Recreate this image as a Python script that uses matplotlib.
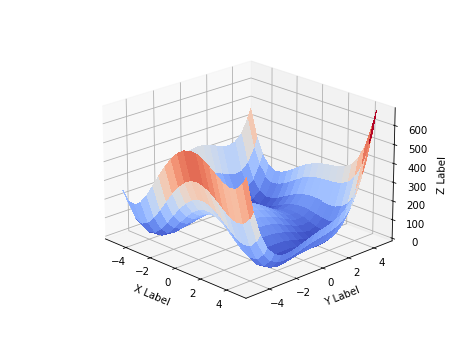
import matplotlib
matplotlib.use("Agg")
import matplotlib.pyplot as plt
import numpy as np

x_values = [-5, -4.5, -4, -3.5, -3, -2.5, -2, -1.5, -1, -0.5, 0, 0.5, 1, 1.5, 2, 2.5, 3, 3.5, 4, 4.5, 4.75]
y_values = list(x_values)
# one row per y value, one column per x value
z_values = [
    [250, 200, 196, 224, 274, 335, 400, 461, 514, 554, 580, 590, 586, 569, 544, 515, 490, 476, 484, 524, 561],
    [158, 99, 86, 106, 147, 201, 259, 314, 360, 395, 416, 422, 413, 393, 365, 334, 306, 291, 298, 338, 374],
    [116, 48, 26, 38, 72, 119, 170, 219, 260, 290, 306, 308, 296, 273, 242, 209, 180, 164, 170, 210, 246],
    [110, 34, 4, 8, 35, 76, 121, 164, 200, 226, 238, 236, 221, 196, 163, 128, 98, 82, 88, 128, 165],
    [130, 45, 8, 5, 26, 60, 100, 138, 170, 191, 200, 195, 178, 150, 116, 80, 50, 33, 40, 81, 119],
    [165, 73, 29, 20, 34, 63, 98, 132, 159, 177, 183, 176, 156, 127, 92, 56, 25, 9, 17, 60, 98],
    [208, 109, 58, 43, 52, 76, 106, 136, 160, 175, 178, 169, 148, 118, 82, 46, 16, 1, 10, 55, 95],
    [251, 146, 89, 68, 72, 92, 118, 144, 165, 178, 179, 168, 146, 116, 80, 44, 15, 2, 13, 60, 101],
    [290, 178, 116, 90, 90, 105, 128, 151, 170, 180, 180, 168, 146, 115, 80, 45, 18, 6, 20, 70, 113],
    [320, 203, 136, 106, 101, 113, 133, 154, 170, 179, 178, 166, 143, 113, 79, 46, 20, 11, 28, 82, 126],
    [340, 218, 146, 112, 104, 113, 130, 149, 164, 172, 170, 158, 136, 107, 74, 43, 20, 14, 34, 92, 139],
    [348, 222, 146, 108, 97, 104, 119, 136, 150, 158, 156, 144, 123, 96, 65, 36, 16, 14, 38, 100, 150],
    [346, 215, 136, 95, 82, 86, 100, 116, 130, 137, 136, 125, 106, 80, 52, 26, 10, 11, 40, 107, 159],
    [335, 201, 119, 76, 60, 63, 76, 92, 105, 113, 113, 104, 86, 63, 38, 16, 3, 9, 43, 116, 171],
    [320, 183, 98, 53, 36, 38, 50, 66, 80, 89, 90, 83, 68, 48, 26, 8, 0, 11, 50, 129, 187],
    [305, 166, 79, 32, 14, 16, 28, 44, 59, 70, 73, 68, 56, 40, 22, 8, 5, 22, 67, 152, 214],
    [298, 156, 68, 20, 2, 3, 16, 33, 50, 62, 68, 66, 58, 45, 32, 23, 26, 48, 100, 192, 258],
    [306, 163, 74, 26, 7, 9, 23, 42, 60, 75, 84, 86, 81, 73, 65, 62, 70, 99, 158, 258, 327],
    [340, 196, 106, 58, 40, 43, 58, 79, 100, 118, 130, 136, 136, 133, 130, 133, 148, 184, 250, 358, 431],
    [410, 266, 176, 128, 111, 116, 133, 156, 180, 202, 218, 228, 233, 236, 239, 248, 270, 314, 388, 504, 582],
    [463, 318, 229, 182, 165, 171, 189, 214, 240, 263, 281, 294, 302, 307, 314, 326, 352, 399, 478, 599, 679],
]
x_label = "X Label"
y_label = "Y Label"
z_label = "Z Label"

fig = plt.figure(figsize=(474 / 74, 354 / 74), dpi=74)
ax = fig.add_subplot(111, projection="3d")
X, Y = np.meshgrid(x_values, y_values)
Z = np.array(z_values, dtype=float)
ax.plot_surface(X, Y, Z, rstride=1, cstride=1, cmap="coolwarm", linewidth=0, antialiased=False)
ax.view_init(elev=21, azim=-44)
ax.set_proj_type("persp", focal_length=1.6)
ax.set_box_aspect((4, 4, 2.78), zoom=1.15)
pos = ax.get_position()
ax.set_position([pos.x0 + 2 / 474, pos.y0 + 1 / 354, pos.width, pos.height])
ax.set_xlabel(x_label, labelpad=-1)
ax.set_ylabel(y_label, labelpad=-1)
ax.set_zlabel(z_label, labelpad=2)
ax.tick_params(axis="x", pad=-1)
ax.tick_params(axis="y", pad=-1)
ax.tick_params(axis="z", pad=3)
fig.savefig("out.png", dpi=74)
